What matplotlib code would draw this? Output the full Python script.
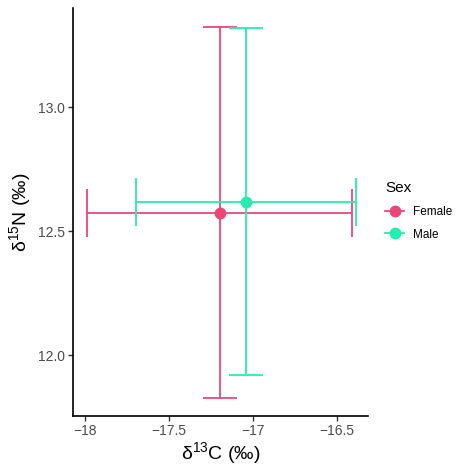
import matplotlib
matplotlib.use("Agg")
import matplotlib.pyplot as plt
from matplotlib.lines import Line2D

plt.rcParams['font.family'] = ['Liberation Sans', 'DejaVu Sans']
plt.rcParams['mathtext.fontset'] = 'custom'
plt.rcParams['mathtext.rm'] = 'Liberation Sans'

# mean and error of each group
sexes = ['Female', 'Male']
colors = ['#EC4679', '#25EDAE']
d13c_mean = [-17.197, -17.041]
d13c_err = [0.79, 0.654]
d15n_mean = [12.575, 12.618]
d15n_err = [0.748, 0.70]

fig = plt.figure(figsize=(4.74, 4.74), dpi=100)
ax = fig.add_axes([0.154, 0.1224, 0.622, 0.8606])

for i, s in enumerate(sexes):
    # horizontal bars
    ax.errorbar(d13c_mean[i], d15n_mean[i], xerr=d13c_err[i], fmt='none',
                ecolor=colors[i], elinewidth=1.3, capsize=17, capthick=1.3, zorder=2)
    # vertical bars
    ax.errorbar(d13c_mean[i], d15n_mean[i], yerr=d15n_err[i], fmt='none',
                ecolor=colors[i], elinewidth=1.3, capsize=12, capthick=1.3, zorder=2)
    ax.plot(d13c_mean[i], d15n_mean[i], 'o', color=colors[i], ms=7.5, zorder=3)

ax.set_xlim(-18.07, -16.315)
ax.set_ylim(11.754, 13.40)
ax.set_xticks([-18, -17.5, -17, -16.5])
ax.set_xticklabels(['\u221218', '\u221217.5', '\u221217', '\u221216.5'])
ax.set_yticks([12.0, 12.5, 13.0])
ax.set_yticklabels(['12.0', '12.5', '13.0'])

for sp in ['top', 'right']:
    ax.spines[sp].set_visible(False)
for sp in ['left', 'bottom']:
    ax.spines[sp].set_linewidth(1.2)
    ax.spines[sp].set_color('black')
ax.tick_params(direction='out', length=3.5, width=1, color='#333333',
               labelsize=10, labelcolor='#4D4D4D', pad=2)

ax.set_xlabel(r'$\mathregular{\delta^{13}C}$ (‰)', fontsize=14, labelpad=2)
ax.set_ylabel(r'$\mathregular{\delta^{15}N}$ (‰)', fontsize=14, labelpad=4)

handles = [Line2D([0], [0], color=c, marker='o', ms=7.5, lw=1.3) for c in colors]
leg = fig.legend(handles, sexes, title='Sex', loc='center left',
                 bbox_to_anchor=(0.79, 0.555), frameon=False, fontsize=8.5,
                 title_fontsize=11, handlelength=1.6, handletextpad=0.8,
                 labelspacing=0.9)
leg._legend_box.align = 'left'

fig.savefig('out.png', dpi=100)
